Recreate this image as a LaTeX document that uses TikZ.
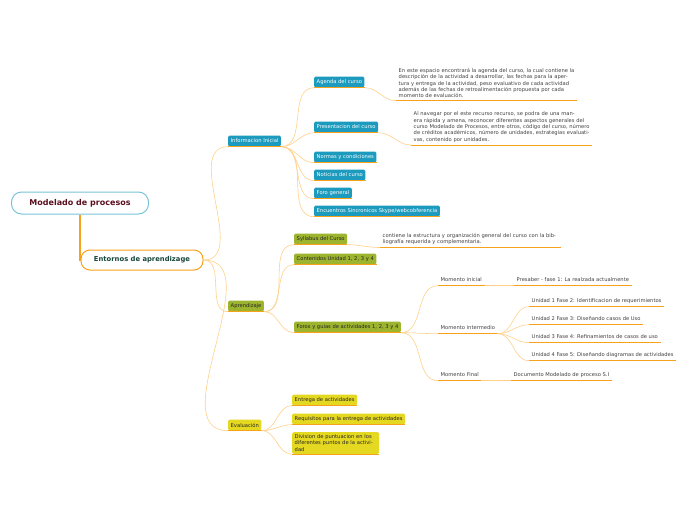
\documentclass[tikz,border=0pt]{standalone}
\usepackage{fontspec}
\setmainfont{DejaVu Sans}
\definecolor{tealb}{HTML}{1C9BBE}
\definecolor{greenb}{HTML}{9DB42E}
\definecolor{yellb}{HTML}{E5D820}
\definecolor{orl}{HTML}{F7A21B}
\definecolor{orc}{HTML}{FFD08A}
\definecolor{darkred}{HTML}{5A0F1E}
\definecolor{darkgr}{HTML}{16453A}
\begin{document}
\begin{tikzpicture}[x=1pt,y=-1pt,
  base/.style={anchor=west,font=\fontsize{5.2}{6.4}\selectfont,inner sep=2.5pt,minimum height=11pt,rounded corners=1.5pt},
  tb/.style={base,fill=tealb,text=white},
  gb/.style={base,fill=greenb,text=black!85},
  yb/.style={base,fill=yellb,text=black!85},
  tx/.style={base,text=black!75,align=left},
  conn/.style={draw=orc,line width=0.6pt},
  uline/.style={draw=orl,line width=1pt}]
\useasboundingbox (0,0) rectangle (696,520);
% root
\node[draw=tealb!60,line width=1pt,rounded corners=10pt,minimum width=137pt,minimum height=22pt,font=\fontsize{8}{9}\bfseries\selectfont,text=darkred] (root) at (80,203) {Modelado de procesos};
\node[draw=orl,line width=1pt,rounded corners=9pt,minimum width=122pt,minimum height=20pt,font=\fontsize{6.8}{8}\bfseries\selectfont,text=darkgr] (ent) at (142,260) {Entornos de aprendizage};
\draw[orl,line width=1.2pt] (root.south) |- (ent.west);
% level 2
\node[tb] (info) at (228,141) {Informacion Inicial};
\node[gb] (apr) at (228,306) {Aprendizaje};
\node[yb] (eva) at (228,425) {Evaluación};
% info children
\node[tb] (age) at (314,82) {Agenda del curso};
\node[tb] (pre) at (314,127) {Presentacion del curso};
\node[tb] (nor) at (314,157) {Normas y condiciones};
\node[tb] (not) at (314,175) {Noticias del curso};
\node[tb] (for) at (314,193) {Foro general};
\node[tb] (enc) at (314,211) {Encuentros Sincronicos Skype/webcobferencia};
\node[tx,text width=176pt] (aget) at (396,83) {En este espacio encontrará la agenda del curso, la cual contiene la descripción de la actividad a desarrollar, las fechas para la apertura y entrega de la actividad, peso evaluativo de cada actividad además de las fechas de retroalimentación propuesta por cada momento de evaluación.};
\node[tx,text width=176pt] (pret) at (411,127) {Al navegar por el este recurso recurso, se podra de una manera rápida y amena, reconocer diferentes aspectos generales del curso Modelado de Procesos, entre otros, código del curso, número de créditos académicos, número de unidades, estrategias evaluativas, contenido por unidades.};
% aprendizaje children
\node[gb] (syl) at (294,239) {Syllabus del Curso};
\node[tx,text width=176pt] (sylt) at (380,239) {contiene la estructura y organización general del curso con la bibliografía requerida y complementaria.};
\node[gb] (con) at (294,259) {Contenidos Unidad 1, 2, 3 y 4};
\node[gb] (foro) at (294,327) {Foros y guias de actividades 1, 2, 3 y 4};
\node[tx] (mi) at (438,280) {Momento inicial};
\node[tx] (pres) at (514,280) {Presaber - fase 1: La realzada actualmente};
\node[tx] (mm) at (438,328) {Momento intermedio};
\node[tx] (u1) at (529,301) {Unidad 1 Fase 2: Identificacion de requerimientos};
\node[tx] (u2) at (529,319) {Unidad 2 Fase 3: Diseñando casos de Uso};
\node[tx] (u3) at (529,337) {Unidad 3 Fase 4: Refinamientos de casos de uso};
\node[tx] (u4) at (529,355) {Unidad 4 Fase 5: Diseñando diagramas de actividades};
\node[tx] (mf) at (438,375) {Momento Final};
\node[tx] (doc) at (511,375) {Documento Modelado de proceso S.I};
% evaluacion children
\node[yb] (ent1) at (292,400) {Entrega de actividades};
\node[yb] (req) at (292,419) {Requisitos para la entrega de actividades};
\node[yb,text width=82pt,align=left] (div) at (292,443) {Division de puntuacion en los diferentes puntos de la actividad};
% underlines
\foreach \n in {info,apr,eva,age,pre,nor,not,for,enc,aget,pret,syl,sylt,con,foro,mi,pres,mm,u1,u2,u3,u4,mf,doc,ent1,req,div}
  \draw[uline] (\n.south west) -- (\n.south east);
% connectors
\foreach \a/\b in {ent/info,ent/apr,ent/eva}
  \draw[conn] (\a.east) to[out=0,in=180] (\b.south west);
\foreach \a/\b in {info/age,info/pre,info/nor,info/not,info/for,info/enc,age/aget,pre/pret,apr/syl,apr/con,apr/foro,syl/sylt,foro/mi,foro/mm,foro/mf,mi/pres,mm/u1,mm/u2,mm/u3,mm/u4,mf/doc,eva/ent1,eva/req,eva/div}
  \draw[conn] (\a.south east) to[out=0,in=180] (\b.south west);
\end{tikzpicture}
\end{document}
